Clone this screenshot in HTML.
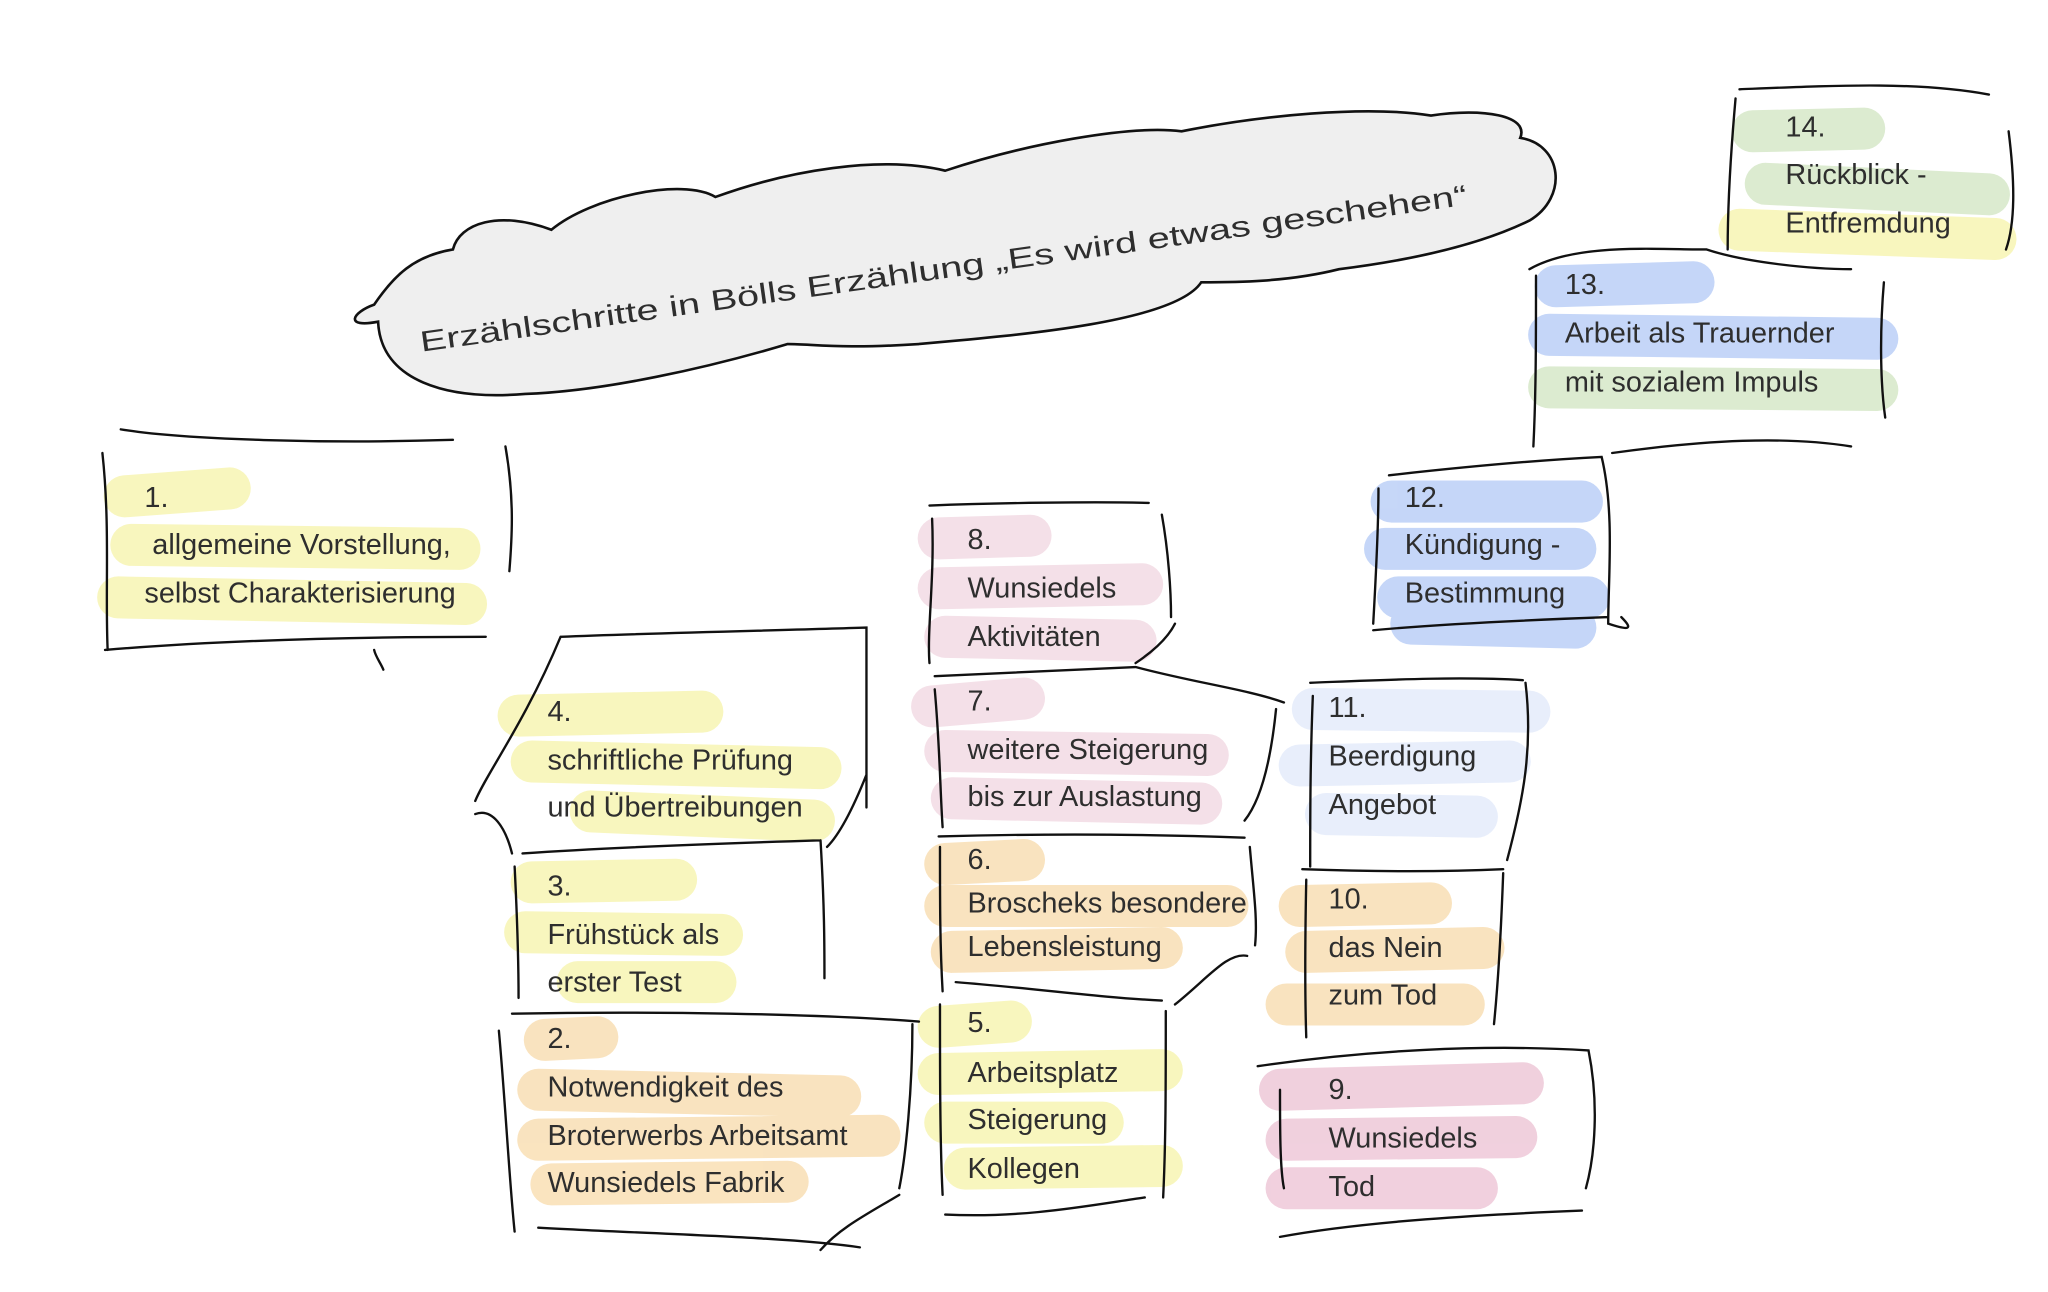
<!DOCTYPE html>
<html><head><meta charset="utf-8"><style>
html,body{margin:0;padding:0;background:#fff;}
svg{display:block}
text{font-family:"Liberation Sans","DejaVu Sans",sans-serif;fill:#2e2e2e;font-size:22px}
.l{fill:none;stroke:#111;stroke-width:1.8;stroke-linecap:round}
.h{stroke-linecap:round;fill:none}
</style></head><body>
<svg width="2048" height="1292" viewBox="0 0 1560 984" preserveAspectRatio="none">
<!-- cloud -->
<path d="M288,245 C262,250 268,238 285,232 C300,210 315,195 345,190 C350,170 380,160 420,175 C450,150 520,135 545,150 C600,130 670,118 720,130 C780,110 860,95 900,100 C960,88 1040,80 1090,88 C1130,82 1165,88 1158,105 C1190,110 1195,150 1165,168 C1120,190 1060,200 1020,205 C980,215 940,215 915,215 C895,245 780,255 700,262 C640,266 620,262 600,262 C540,280 460,298 400,300 C340,305 290,290 288,245 Z" fill="#efefef" stroke="#111" stroke-width="2"/>
<text x="718" y="212" font-size="30" text-anchor="middle" textLength="805" lengthAdjust="spacingAndGlyphs" transform="rotate(-8 718 200)">Erzählschritte in Bölls Erzählung „Es wird etwas geschehen“</text>

<!-- highlights -->
<g class="h" stroke-width="32" opacity="0.85">
<path stroke="#f7f5b3" d="M95,378 L175,372 M100,415 L350,418 M90,455 L355,460"/>
<path stroke="#f7f5b3" d="M395,545 L535,542 M405,580 L625,585 M450,618 L620,625"/>
<path stroke="#f7f5b3" d="M405,672 L515,670 M400,710 L550,712 M440,748 L545,748"/>
<path stroke="#f9dfb4" d="M415,792 L455,790 M410,830 L640,835 M410,868 L670,865 M420,902 L600,900"/>
<path stroke="#f3dbe4" d="M715,410 L785,408 M715,448 L870,445 M720,485 L865,488"/>
<path stroke="#f3dbe4" d="M710,538 L780,532 M720,572 L920,575 M725,608 L915,612"/>
<path stroke="#f9dfb4" d="M720,658 L780,655 M720,690 L935,690 M725,725 L885,722"/>
<path stroke="#f7f5b3" d="M715,782 L770,778 M715,818 L885,815 M720,855 L840,855 M735,890 L885,888"/>
<path stroke="#e5ecfb" d="M1000,540 L1165,542 M990,583 L1150,580 M1010,620 L1125,622"/>
<path stroke="#f9dfb4" d="M990,690 L1090,688 M995,725 L1130,722 M980,765 L1115,765"/>
<path stroke="#eec8d8" d="M975,830 L1160,825 M980,868 L1155,866 M980,905 L1125,905"/>
<path stroke="#bcd0f7" d="M1060,382 L1205,382 M1055,418 L1200,418 M1065,455 L1210,455 M1075,475 L1200,478"/>
<path stroke="#bcd0f7" d="M1185,218 L1290,215 M1180,255 L1430,258"/>
<path stroke="#d6e8c8" d="M1180,295 L1430,297 M1335,100 L1420,98 M1345,140 L1515,148"/>
<path stroke="#f7f5b3" d="M1325,175 L1520,182"/>
</g>

<!-- box outlines -->
<path class="l" d="M92,327 C140,335 250,338 345,335 M78,345 C84,400 80,450 82,495 M385,340 C392,380 390,410 388,435 M80,495 C140,490 230,485 370,485 M285,495 C286,500 290,505 292,510"/>
<path class="l" d="M427,485 C500,482 600,480 660,478 L660,615 M427,485 C400,550 370,590 362,610 M660,590 C650,615 640,635 630,645 M362,620 C375,615 385,630 390,650"/>
<path class="l" d="M392,660 C394,700 395,740 395,760 M625,640 C628,690 628,720 628,745 M398,650 C470,645 560,642 625,640"/>
<path class="l" d="M390,772 C500,770 620,772 700,778 M380,785 C385,840 388,900 392,938 M695,780 C695,830 690,880 685,905 M410,935 C500,940 600,942 655,950 M625,952 C640,935 660,925 685,910"/>
<path class="l" d="M708,385 C760,383 830,382 875,383 M710,395 C712,440 706,480 708,505 M885,392 C890,420 892,450 892,470 M865,505 C880,495 890,485 895,475"/>
<path class="l" d="M712,515 C780,512 830,510 865,508 C910,520 950,525 978,535 M712,525 C716,570 716,600 718,630 M972,540 C968,580 960,610 948,625"/>
<path class="l" d="M715,637 C790,635 870,635 948,638 M716,645 C716,690 716,720 718,755 M952,645 C955,680 958,700 956,720 M895,765 C920,745 935,725 950,728"/>
<path class="l" d="M728,748 C780,752 840,760 885,762 M716,765 C716,820 716,870 718,910 M888,770 C888,830 888,870 886,912 M720,925 C780,928 830,918 872,912"/>
<path class="l" d="M998,520 C1050,518 1110,515 1160,518 M1000,530 C998,580 998,620 998,660 M1162,520 C1168,570 1160,610 1148,655"/>
<path class="l" d="M992,662 C1050,664 1100,664 1145,662 M995,670 C994,720 994,760 995,790 M1145,665 C1143,720 1140,760 1138,780"/>
<path class="l" d="M958,812 C1040,800 1130,795 1210,800 C1218,840 1215,880 1208,905 M975,830 C975,860 975,890 978,905 M975,942 C1040,930 1130,925 1205,922"/>
<path class="l" d="M1058,362 C1120,355 1180,350 1220,348 C1230,390 1225,440 1225,475 C1240,480 1245,480 1235,470 M1050,372 C1050,400 1048,440 1046,475 M1046,480 C1100,475 1170,472 1225,470 M1228,345 C1300,335 1360,332 1410,340"/>
<path class="l" d="M1165,205 C1200,185 1260,190 1300,190 C1330,200 1380,205 1410,205 M1170,210 C1170,260 1170,300 1168,340 M1435,215 C1432,250 1432,290 1436,318"/>
<path class="l" d="M1325,68 C1400,65 1460,62 1515,72 M1322,75 C1318,120 1316,160 1316,190 M1530,100 C1535,140 1535,170 1528,190"/>

<!-- texts -->
<text x="110" y="386">1.</text>
<text x="116" y="422">allgemeine Vorstellung,</text>
<text x="110" y="459">selbst Charakterisierung</text>
<text x="417" y="549">4.</text>
<text x="417" y="586">schriftliche Prüfung</text>
<text x="417" y="622">und Übertreibungen</text>
<text x="417" y="682">3.</text>
<text x="417" y="719">Frühstück als</text>
<text x="417" y="755">erster Test</text>
<text x="417" y="798">2.</text>
<text x="417" y="835">Notwendigkeit des</text>
<text x="417" y="872">Broterwerbs Arbeitsamt</text>
<text x="417" y="908">Wunsiedels Fabrik</text>
<text x="737" y="418">8.</text>
<text x="737" y="455">Wunsiedels</text>
<text x="737" y="492">Aktivitäten</text>
<text x="737" y="541">7.</text>
<text x="737" y="578">weitere Steigerung</text>
<text x="737" y="614">bis zur Auslastung</text>
<text x="737" y="662" font-size="20">6.</text>
<text x="737" y="695" font-size="20">Broscheks besondere</text>
<text x="737" y="728" font-size="20">Lebensleistung</text>
<text x="737" y="786">5.</text>
<text x="737" y="824">Arbeitsplatz</text>
<text x="737" y="860">Steigerung</text>
<text x="737" y="897">Kollegen</text>
<text x="1012" y="546">11.</text>
<text x="1012" y="583">Beerdigung</text>
<text x="1012" y="620">Angebot</text>
<text x="1012" y="692">10.</text>
<text x="1012" y="729">das Nein</text>
<text x="1012" y="765">zum Tod</text>
<text x="1012" y="837">9.</text>
<text x="1012" y="874">Wunsiedels</text>
<text x="1012" y="911">Tod</text>
<text x="1070" y="386">12.</text>
<text x="1070" y="422">Kündigung -</text>
<text x="1070" y="459">Bestimmung</text>
<text x="1192" y="224">13.</text>
<text x="1192" y="261">Arbeit als Trauernder</text>
<text x="1192" y="298">mit sozialem Impuls</text>
<text x="1360" y="104">14.</text>
<text x="1360" y="140">Rückblick -</text>
<text x="1360" y="177">Entfremdung</text>
</svg>
</body></html>
